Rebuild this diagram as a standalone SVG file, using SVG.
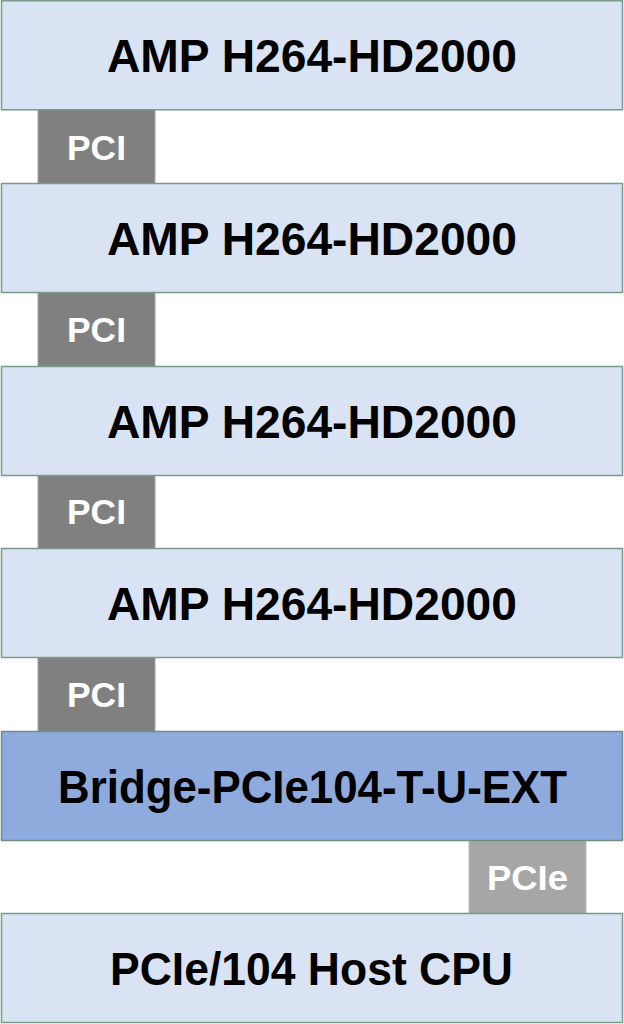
<svg xmlns="http://www.w3.org/2000/svg" width="624" height="1024" viewBox="0 0 624 1024">
<style>
.box{fill:#DAE3F3;stroke:#7A9A8C;stroke-width:1.5}
.bridge{fill:#8FAADC;stroke:#6F8F86;stroke-width:1.5}
.pci{fill:#808080;stroke:#A0A8A0;stroke-width:1}
.pcie{fill:#A6A6A6;stroke:#B8BCB8;stroke-width:1}
.t{font-family:"Liberation Sans",Arial,sans-serif;font-weight:bold;font-size:46px;fill:#000;text-anchor:middle}
.c{font-family:"Liberation Sans",Arial,sans-serif;font-weight:bold;font-size:35px;fill:#FFF;text-anchor:middle}
</style>
<rect width="624" height="1024" fill="#FFFFFF"/>
<g id="connectors">
<g id="pci1"><rect class="pci" x="38" y="109" width="117" height="75"/><text class="c" x="96.5" y="160" textLength="59" lengthAdjust="spacingAndGlyphs">PCI</text></g>
<g id="pci2"><rect class="pci" x="38" y="292" width="117" height="75"/><text class="c" x="96.5" y="342" textLength="59" lengthAdjust="spacingAndGlyphs">PCI</text></g>
<g id="pci3"><rect class="pci" x="38" y="475" width="117" height="74"/><text class="c" x="96.5" y="524" textLength="59" lengthAdjust="spacingAndGlyphs">PCI</text></g>
<g id="pci4"><rect class="pci" x="38" y="657" width="117" height="75"/><text class="c" x="96.5" y="707" textLength="59" lengthAdjust="spacingAndGlyphs">PCI</text></g>
<g id="pcie"><rect class="pcie" x="469" y="840" width="117" height="74"/><text class="c" x="527.5" y="890" textLength="81" lengthAdjust="spacingAndGlyphs">PCIe</text></g>
</g>
<g id="amp1"><rect class="box" x="1.5" y="0.75" width="621" height="109"/><text class="t" x="312" y="72" textLength="410" lengthAdjust="spacingAndGlyphs">AMP H264-HD2000</text></g>
<g id="amp2"><rect class="box" x="1.5" y="183.5" width="621" height="109"/><text class="t" x="312" y="255" textLength="410" lengthAdjust="spacingAndGlyphs">AMP H264-HD2000</text></g>
<g id="amp3"><rect class="box" x="1.5" y="366.5" width="621" height="109"/><text class="t" x="312" y="438" textLength="410" lengthAdjust="spacingAndGlyphs">AMP H264-HD2000</text></g>
<g id="amp4"><rect class="box" x="1.5" y="548.5" width="621" height="109"/><text class="t" x="312" y="620" textLength="410" lengthAdjust="spacingAndGlyphs">AMP H264-HD2000</text></g>
<g id="bridge"><rect class="bridge" x="1.5" y="731.5" width="621" height="109"/><text class="t" x="312.5" y="803" textLength="509" lengthAdjust="spacingAndGlyphs">Bridge-PCIe104-T-U-EXT</text></g>
<g id="host"><rect class="box" x="1.5" y="913.5" width="621" height="109"/><text class="t" x="311.5" y="985" textLength="403" lengthAdjust="spacingAndGlyphs">PCIe/104 Host CPU</text></g>
</svg>
